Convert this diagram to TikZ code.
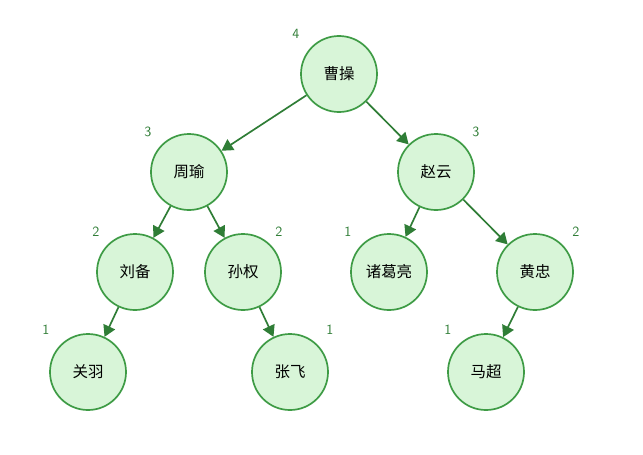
\documentclass[tikz,border=0pt]{standalone}
\usepackage{fontspec}
\newfontfamily\cjk{Noto Sans CJK SC}
\usetikzlibrary{arrows.meta}
\definecolor{nodefill}{HTML}{D8F5D8}
\definecolor{nodeline}{HTML}{3E9B45}
\definecolor{edgecol}{HTML}{2F7D36}
\tikzset{
    hero/.style={circle, draw=nodeline, line width=1.2pt, fill=nodefill,
        minimum size=1.9cm, inner sep=0pt, font=\cjk\fontsize{11}{13}\selectfont},
    height/.style={text=edgecol, font=\sffamily\fontsize{10}{12}\selectfont},
    link/.style={draw=edgecol, line width=1.2pt, -{Triangle[length=8pt,width=9pt]}}
}
\begin{document}
\begin{tikzpicture}[x=0.025cm, y=-0.025cm]
    \useasboundingbox (0,0) rectangle (643,454);

    % nodes
    \node[hero] (caocao) at (339,74) {曹操};
    \node[hero] (zhouyu) at (189,172) {周瑜};
    \node[hero] (zhaoyun) at (436,172) {赵云};
    \node[hero] (liubei) at (135,272) {刘备};
    \node[hero] (sunquan) at (243,272) {孙权};
    \node[hero] (zhuge) at (389,272) {诸葛亮};
    \node[hero] (huangzhong) at (535,272) {黄忠};
    \node[hero] (guanyu) at (88,372) {关羽};
    \node[hero] (zhangfei) at (290,372) {张飞};
    \node[hero] (machao) at (486,372) {马超};

    % heights
    \node[height] (h1) at (296,34) {4};
    \node[height] (h2) at (148,132) {3};
    \node[height] (h3) at (476,132) {3};
    \node[height] (h4) at (96,232) {2};
    \node[height] (h5) at (279,232) {2};
    \node[height] (h6) at (348,232) {1};
    \node[height] (h7) at (576,232) {2};
    \node[height] (h8) at (46,330) {1};
    \node[height] (h9) at (330,330) {1};
    \node[height] (h10) at (448,330) {1};

    % edges
    \draw[link] (caocao) -- (zhouyu);
    \draw[link] (caocao) -- (zhaoyun);
    \draw[link] (zhouyu) -- (liubei);
    \draw[link] (zhouyu) -- (sunquan);
    \draw[link] (zhaoyun) -- (zhuge);
    \draw[link] (zhaoyun) -- (huangzhong);
    \draw[link] (liubei) -- (guanyu);
    \draw[link] (sunquan) -- (zhangfei);
    \draw[link] (huangzhong) -- (machao);
\end{tikzpicture}
\end{document}
